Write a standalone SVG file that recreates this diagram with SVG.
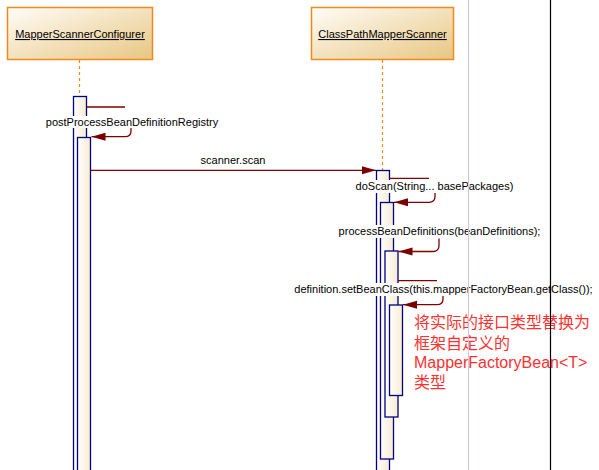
<svg xmlns="http://www.w3.org/2000/svg" width="599" height="470" viewBox="0 0 599 470">
<defs>
<linearGradient id="boxg" x1="0" y1="0" x2="1" y2="1">
<stop offset="0" stop-color="#fffdf8"/>
<stop offset="1" stop-color="#e8c682"/>
</linearGradient>
<linearGradient id="actg" x1="0" y1="0" x2="1" y2="0">
<stop offset="0" stop-color="#fffefb"/>
<stop offset="1" stop-color="#f6ecd4"/>
</linearGradient>
<marker id="ah" markerWidth="16" markerHeight="10" refX="14" refY="5" orient="auto" markerUnits="userSpaceOnUse">
<path d="M14,5 L0,1 L0,9 Z" fill="#7a0000"/>
</marker>
</defs>
<style>
.box{fill:url(#boxg);stroke:#f08a1c;stroke-width:1.5}
.bt{font-family:"Liberation Sans",Arial,sans-serif;font-size:11px;fill:#000;text-anchor:middle;text-decoration:underline}
.life{stroke:#f08a1c;stroke-width:1.2;stroke-dasharray:3,3;fill:none}
.act{fill:url(#actg);stroke:#000080;stroke-width:1.3}
.msg{stroke:#800000;stroke-width:1.3;fill:none}
.lbl{font-family:"Liberation Sans",Arial,sans-serif;font-size:11px;fill:#000;text-anchor:middle}
.lbg{fill:#fff}
.note{font-family:"Liberation Sans","Noto Sans CJK SC",sans-serif;font-size:16px;fill:#ff3030}
</style>
<rect width="599" height="470" fill="#fff"/>

<g id="MapperScannerConfigurer">
<rect class="box" x="7.5" y="7.5" width="145" height="52"/>
<text class="bt" x="80" y="38">MapperScannerConfigurer</text>
<line class="life" x1="79.5" y1="60" x2="79.5" y2="96"/>
<rect class="act" x="73.5" y="96.5" width="13" height="380"/>
<rect class="act" x="77.5" y="137.5" width="13" height="340"/>
</g>

<g id="ClassPathMapperScanner">
<rect class="box" x="311.5" y="7.5" width="142" height="52"/>
<text class="bt" x="382.5" y="38">ClassPathMapperScanner</text>
<line class="life" x1="382.5" y1="60" x2="382.5" y2="170"/>
<rect class="act" x="376.5" y="170.5" width="13" height="310"/>
<rect class="act" x="380.5" y="202.5" width="13" height="256.5"/>
<rect class="act" x="385" y="251" width="13" height="166"/>
<rect class="act" x="389.5" y="305" width="13" height="90.5"/>
</g>

<g id="connectors">
<path class="msg" d="M86.5,107 H125"/>
<rect class="lbg" x="46" y="116" width="173" height="12"/>
<path class="msg" d="M131,128 V131 Q131,136.7 125,136.7 H91.5" marker-end="url(#ah)"/>
<text class="lbl" x="132" y="126">postProcessBeanDefinitionRegistry</text>

<path class="msg" d="M91,170.3 H376" marker-end="url(#ah)"/>
<text class="lbl" x="233" y="164">scanner.scan</text>

<path class="msg" d="M389.5,178.3 H429"/>
<rect class="lbg" x="355" y="180" width="159" height="13"/>
<path class="msg" d="M435,193 V196.5 Q435,202.3 429,202.3 H394" marker-end="url(#ah)"/>
<text class="lbl" x="434.5" y="190">doScan(String... basePackages)</text>

<rect class="lbg" x="338" y="225" width="203" height="13"/>
<path class="msg" d="M439,238.5 V245.5 Q439,251.5 433,251.5 H398.5" marker-end="url(#ah)"/>
<text class="lbl" x="439.5" y="235">processBeanDefinitions(beanDefinitions);</text>

<path class="msg" d="M398,280.7 H437"/>
<rect class="lbg" x="294" y="283" width="299" height="13"/>
<path class="msg" d="M443,296 V299 Q443,304.7 437,304.7 H403" marker-end="url(#ah)"/>
<text class="lbl" x="443.5" y="293">definition.setBeanClass(this.mapperFactoryBean.getClass());</text>
</g>

<g id="note">
<text class="note" x="414" y="328">将实际的接口类型替换为</text>
<text class="note" x="414" y="348.5">框架自定义的</text>
<text class="note" x="414" y="367.5">MapperFactoryBean&lt;T&gt;</text>
<text class="note" x="414" y="387.5">类型</text>
</g>

<line x1="468.5" y1="0" x2="468.5" y2="470" stroke="#c8c8e6" stroke-width="1"/>
<line x1="550.5" y1="0" x2="550.5" y2="470" stroke="#000" stroke-width="1.2"/>
</svg>
